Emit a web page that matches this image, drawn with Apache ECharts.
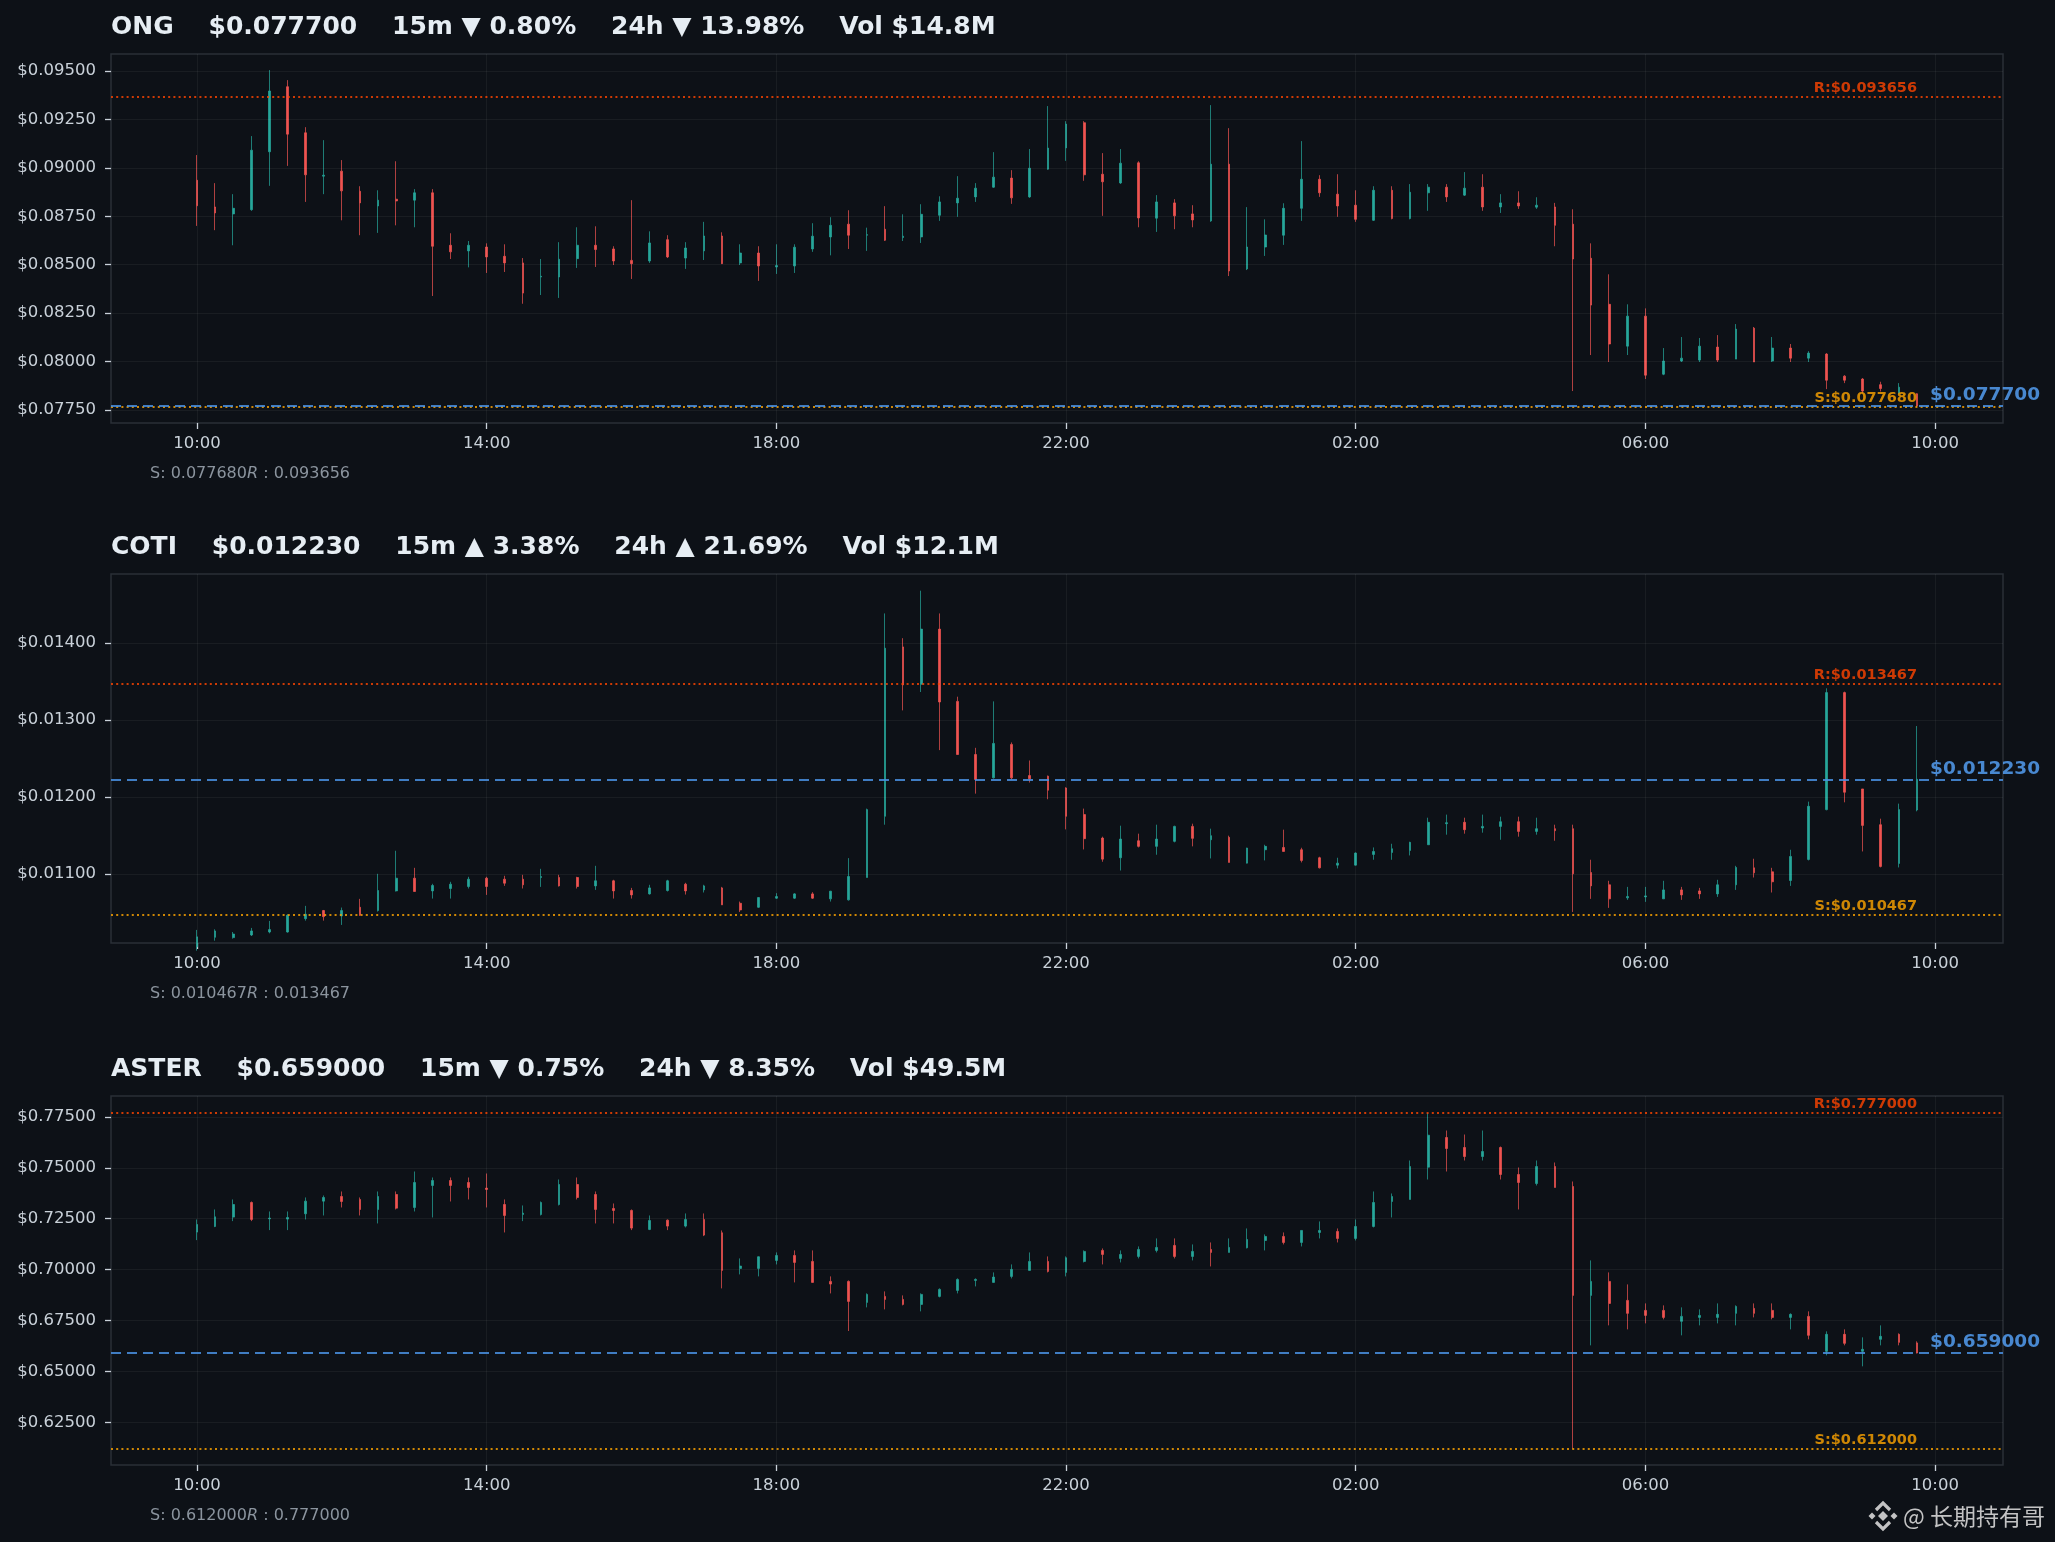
<!DOCTYPE html>
<html>
<head>
<meta charset="utf-8">
<title>ONG / COTI / ASTER 15m</title>
<script src="https://cdn.jsdelivr.net/npm/echarts@6.0.0/dist/echarts.min.js"></script>
<style>
  html, body { margin: 0; padding: 0; background: #0d1117; }
  #chart { width: 2055px; height: 1542px; }
</style>
</head>
<body>
<div id="chart"></div>
<script>
// 横轴刻度（15分钟K线，索引0 = 10:00）
const xTickPos = [0, 16, 32, 48, 64, 80, 96];
const xTickLabels = ["10:00", "14:00", "18:00", "22:00", "02:00", "06:00", "10:00"];

// 每根K线: [开, 收, 低, 高]
const ongCandles = [
  [0.08936, 0.08804, 0.08700, 0.09066], [0.08798, 0.08767, 0.08678, 0.08921], [0.08762, 0.08791, 0.08600, 0.08864],
  [0.08784, 0.09091, 0.08778, 0.09164], [0.09083, 0.09397, 0.08907, 0.09505], [0.09419, 0.09174, 0.09010, 0.09453],
  [0.09181, 0.08964, 0.08824, 0.09210], [0.08957, 0.08962, 0.08864, 0.09143], [0.08983, 0.08881, 0.08729, 0.09040],
  [0.08879, 0.08819, 0.08652, 0.08905], [0.08803, 0.08833, 0.08664, 0.08884], [0.08838, 0.08829, 0.08703, 0.09034],
  [0.08833, 0.08871, 0.08693, 0.08890], [0.08871, 0.08595, 0.08338, 0.08890], [0.08600, 0.08566, 0.08529, 0.08662],
  [0.08571, 0.08600, 0.08486, 0.08622], [0.08591, 0.08540, 0.08457, 0.08610], [0.08543, 0.08509, 0.08462, 0.08605],
  [0.08509, 0.08353, 0.08298, 0.08534], [0.08436, 0.08440, 0.08343, 0.08529], [0.08436, 0.08528, 0.08328, 0.08616],
  [0.08531, 0.08600, 0.08483, 0.08693], [0.08600, 0.08578, 0.08488, 0.08698], [0.08581, 0.08519, 0.08498, 0.08595],
  [0.08522, 0.08505, 0.08426, 0.08833], [0.08519, 0.08612, 0.08509, 0.08672], [0.08629, 0.08540, 0.08534, 0.08652],
  [0.08534, 0.08586, 0.08478, 0.08616], [0.08571, 0.08648, 0.08524, 0.08721], [0.08648, 0.08505, 0.08503, 0.08667],
  [0.08509, 0.08560, 0.08498, 0.08605], [0.08560, 0.08493, 0.08416, 0.08595], [0.08488, 0.08495, 0.08452, 0.08605],
  [0.08493, 0.08590, 0.08457, 0.08605], [0.08581, 0.08647, 0.08566, 0.08714], [0.08643, 0.08703, 0.08548, 0.08745],
  [0.08709, 0.08652, 0.08581, 0.08781], [0.08652, 0.08655, 0.08571, 0.08691], [0.08683, 0.08626, 0.08622, 0.08802],
  [0.08640, 0.08647, 0.08622, 0.08760], [0.08643, 0.08760, 0.08612, 0.08812], [0.08755, 0.08824, 0.08726, 0.08853],
  [0.08819, 0.08843, 0.08747, 0.08957], [0.08850, 0.08895, 0.08824, 0.08921], [0.08900, 0.08952, 0.08897, 0.09081],
  [0.08947, 0.08845, 0.08814, 0.08988], [0.08850, 0.08998, 0.08845, 0.09097], [0.08993, 0.09102, 0.08990, 0.09319],
  [0.09103, 0.09226, 0.09036, 0.09241], [0.09233, 0.08964, 0.08933, 0.09241], [0.08967, 0.08928, 0.08752, 0.09076],
  [0.08922, 0.09024, 0.08917, 0.09097], [0.09026, 0.08741, 0.08693, 0.09034], [0.08740, 0.08824, 0.08669, 0.08859],
  [0.08819, 0.08752, 0.08683, 0.08838], [0.08762, 0.08731, 0.08693, 0.08807], [0.08726, 0.09019, 0.08721, 0.09324],
  [0.09019, 0.08467, 0.08441, 0.09205], [0.08478, 0.08591, 0.08472, 0.08797], [0.08591, 0.08653, 0.08545, 0.08734],
  [0.08652, 0.08791, 0.08602, 0.08817], [0.08791, 0.08941, 0.08726, 0.09138], [0.08941, 0.08871, 0.08850, 0.08962],
  [0.08864, 0.08803, 0.08747, 0.08967], [0.08807, 0.08734, 0.08721, 0.08884], [0.08729, 0.08884, 0.08726, 0.08905],
  [0.08884, 0.08738, 0.08734, 0.08905], [0.08738, 0.08874, 0.08734, 0.08916], [0.08871, 0.08900, 0.08778, 0.08916],
  [0.08900, 0.08850, 0.08824, 0.08916], [0.08859, 0.08895, 0.08855, 0.08978], [0.08900, 0.08798, 0.08778, 0.08967],
  [0.08798, 0.08819, 0.08767, 0.08864], [0.08819, 0.08803, 0.08788, 0.08879], [0.08797, 0.08807, 0.08788, 0.08848],
  [0.08798, 0.08703, 0.08595, 0.08819], [0.08709, 0.08529, 0.07847, 0.08786], [0.08533, 0.08291, 0.08033, 0.08610],
  [0.08295, 0.08090, 0.07997, 0.08450], [0.08079, 0.08234, 0.08033, 0.08295], [0.08234, 0.07929, 0.07909, 0.08274],
  [0.07934, 0.08002, 0.07929, 0.08069], [0.08002, 0.08017, 0.07997, 0.08126], [0.08007, 0.08079, 0.07997, 0.08121],
  [0.08074, 0.08007, 0.07997, 0.08136], [0.08012, 0.08167, 0.08012, 0.08193], [0.08172, 0.07997, 0.07997, 0.08178],
  [0.08002, 0.08069, 0.07997, 0.08126], [0.08069, 0.08017, 0.07997, 0.08090], [0.08017, 0.08043, 0.07997, 0.08053],
  [0.08038, 0.07903, 0.07857, 0.08043], [0.07924, 0.07903, 0.07888, 0.07929], [0.07909, 0.07847, 0.07836, 0.07914],
  [0.07880, 0.07860, 0.07845, 0.07895], [0.07836, 0.07867, 0.07833, 0.07888], [0.07833, 0.07770, 0.07766, 0.07836]
];

const cotiCandles = [
  [0.010050, 0.010180, 0.010000, 0.010270], [0.010174, 0.010257, 0.010130, 0.010278], [0.010170, 0.010217, 0.010157, 0.010243],
  [0.010204, 0.010257, 0.010191, 0.010296], [0.010243, 0.010274, 0.010226, 0.010387], [0.010243, 0.010461, 0.010235, 0.010474],
  [0.010417, 0.010474, 0.010391, 0.010583], [0.010522, 0.010443, 0.010391, 0.010530], [0.010452, 0.010522, 0.010335, 0.010561],
  [0.010565, 0.010461, 0.010452, 0.010674], [0.010522, 0.010783, 0.010509, 0.011000], [0.010778, 0.010943, 0.010770, 0.011300],
  [0.010943, 0.010770, 0.010770, 0.011078], [0.010778, 0.010848, 0.010678, 0.010870], [0.010809, 0.010865, 0.010678, 0.010896],
  [0.010835, 0.010930, 0.010809, 0.010961], [0.010943, 0.010835, 0.010726, 0.010961], [0.010930, 0.010878, 0.010843, 0.010974],
  [0.010930, 0.010857, 0.010809, 0.010987], [0.010952, 0.010965, 0.010830, 0.011065], [0.010952, 0.010843, 0.010835, 0.010987],
  [0.010952, 0.010835, 0.010809, 0.010961], [0.010843, 0.010909, 0.010791, 0.011104], [0.010909, 0.010778, 0.010678, 0.010922],
  [0.010783, 0.010726, 0.010678, 0.010817], [0.010739, 0.010817, 0.010730, 0.010857], [0.010783, 0.010909, 0.010770, 0.010922],
  [0.010865, 0.010778, 0.010730, 0.010883], [0.010791, 0.010843, 0.010757, 0.010857], [0.010817, 0.010596, 0.010596, 0.010830],
  [0.010617, 0.010530, 0.010504, 0.010639], [0.010565, 0.010691, 0.010557, 0.010696], [0.010683, 0.010704, 0.010674, 0.010748],
  [0.010683, 0.010739, 0.010674, 0.010748], [0.010739, 0.010683, 0.010674, 0.010761], [0.010674, 0.010774, 0.010639, 0.010778],
  [0.010661, 0.010965, 0.010652, 0.011204], [0.010952, 0.011835, 0.010952, 0.011848], [0.011748, 0.013935, 0.011639, 0.014387],
  [0.013952, 0.013457, 0.013126, 0.014065], [0.013465, 0.014183, 0.013365, 0.014683], [0.014183, 0.013235, 0.012609, 0.014387],
  [0.013243, 0.012552, 0.012552, 0.013304], [0.012552, 0.012226, 0.012043, 0.012639], [0.012248, 0.012696, 0.012239, 0.013243],
  [0.012683, 0.012248, 0.012226, 0.012709], [0.012278, 0.012235, 0.012187, 0.012474], [0.012270, 0.012087, 0.011970, 0.012278],
  [0.012117, 0.011748, 0.011578, 0.012126], [0.011770, 0.011457, 0.011317, 0.011848], [0.011465, 0.011191, 0.011157, 0.011483],
  [0.011209, 0.011452, 0.011043, 0.011626], [0.011430, 0.011357, 0.011343, 0.011522], [0.011357, 0.011452, 0.011248, 0.011639],
  [0.011422, 0.011617, 0.011409, 0.011626], [0.011617, 0.011461, 0.011357, 0.011652], [0.011443, 0.011496, 0.011200, 0.011587],
  [0.011474, 0.011148, 0.011148, 0.011496], [0.011139, 0.011335, 0.011135, 0.011339], [0.011313, 0.011357, 0.011174, 0.011378],
  [0.011343, 0.011291, 0.011291, 0.011574], [0.011313, 0.011174, 0.011148, 0.011339], [0.011209, 0.011078, 0.011070, 0.011222],
  [0.011113, 0.011139, 0.011070, 0.011209], [0.011113, 0.011270, 0.011109, 0.011278], [0.011252, 0.011291, 0.011183, 0.011343],
  [0.011278, 0.011326, 0.011183, 0.011391], [0.011304, 0.011409, 0.011239, 0.011417], [0.011378, 0.011670, 0.011378, 0.011730],
  [0.011652, 0.011665, 0.011509, 0.011770], [0.011670, 0.011574, 0.011522, 0.011730], [0.011596, 0.011617, 0.011535, 0.011770],
  [0.011617, 0.011678, 0.011443, 0.011743], [0.011678, 0.011552, 0.011483, 0.011743], [0.011552, 0.011587, 0.011509, 0.011730],
  [0.011587, 0.011561, 0.011430, 0.011639], [0.011587, 0.011000, 0.010504, 0.011639], [0.011017, 0.010843, 0.010674, 0.011183],
  [0.010857, 0.010674, 0.010557, 0.010909], [0.010687, 0.010704, 0.010661, 0.010830], [0.010700, 0.010713, 0.010635, 0.010830],
  [0.010674, 0.010791, 0.010674, 0.010909], [0.010791, 0.010726, 0.010661, 0.010830], [0.010778, 0.010739, 0.010674, 0.010817],
  [0.010739, 0.010857, 0.010700, 0.010922], [0.010857, 0.011083, 0.010791, 0.011104], [0.011078, 0.011013, 0.010952, 0.011196],
  [0.011026, 0.010896, 0.010757, 0.011078], [0.010913, 0.011226, 0.010843, 0.011313], [0.011187, 0.011878, 0.011174, 0.011939],
  [0.011835, 0.013357, 0.011826, 0.013413], [0.013357, 0.012061, 0.011930, 0.013370], [0.012104, 0.011630, 0.011291, 0.012104],
  [0.011639, 0.011096, 0.011083, 0.011717], [0.011135, 0.011835, 0.011083, 0.011913], [0.011830, 0.012230, 0.011813, 0.012922]
];

const asterCandles = [
  [0.71839, 0.72215, 0.71446, 0.72461], [0.72118, 0.72592, 0.72085, 0.72952], [0.72576, 0.73197, 0.72379, 0.73443],
  [0.73295, 0.72461, 0.72379, 0.73344], [0.72494, 0.72527, 0.71938, 0.72854], [0.72478, 0.72559, 0.71938, 0.72854],
  [0.72739, 0.73361, 0.72461, 0.73541], [0.73361, 0.73541, 0.72657, 0.73639], [0.73590, 0.73344, 0.73050, 0.73835],
  [0.73443, 0.72952, 0.72657, 0.73541], [0.72952, 0.73590, 0.72265, 0.73835], [0.73688, 0.73017, 0.72952, 0.73835],
  [0.73050, 0.74277, 0.72854, 0.74817], [0.74130, 0.74375, 0.72559, 0.74522], [0.74375, 0.74130, 0.73344, 0.74522],
  [0.74277, 0.74032, 0.73443, 0.74522], [0.74000, 0.73934, 0.73050, 0.74719], [0.73197, 0.72657, 0.71823, 0.73443],
  [0.72706, 0.72772, 0.72379, 0.73148], [0.72706, 0.73295, 0.72657, 0.73344], [0.73197, 0.74179, 0.73148, 0.74424],
  [0.74179, 0.73541, 0.73443, 0.74522], [0.73688, 0.72952, 0.72265, 0.73835], [0.73001, 0.72903, 0.72265, 0.73246],
  [0.72903, 0.72036, 0.71938, 0.72952], [0.71971, 0.72412, 0.71938, 0.72657], [0.72428, 0.72134, 0.71938, 0.72461],
  [0.72134, 0.72461, 0.72069, 0.72756], [0.72461, 0.71692, 0.71643, 0.72756], [0.71807, 0.69958, 0.69075, 0.71921],
  [0.70056, 0.70171, 0.69762, 0.70547], [0.70056, 0.70629, 0.69664, 0.70645], [0.70449, 0.70694, 0.70252, 0.70842],
  [0.70694, 0.70351, 0.69369, 0.70940], [0.70400, 0.69369, 0.69369, 0.70940], [0.69418, 0.69287, 0.68829, 0.69664],
  [0.69418, 0.68437, 0.66981, 0.69467], [0.68388, 0.68780, 0.68142, 0.68829], [0.68682, 0.68535, 0.68044, 0.68927],
  [0.68535, 0.68289, 0.68240, 0.68731], [0.68289, 0.68780, 0.67946, 0.68829], [0.68682, 0.69026, 0.68633, 0.69075],
  [0.68976, 0.69516, 0.68829, 0.69565], [0.69467, 0.69516, 0.69173, 0.69565], [0.69369, 0.69631, 0.69369, 0.69860],
  [0.69664, 0.70007, 0.69565, 0.70253], [0.69958, 0.70400, 0.69958, 0.70841], [0.70400, 0.69909, 0.69860, 0.70645],
  [0.69860, 0.70580, 0.69664, 0.70645], [0.70400, 0.70891, 0.70351, 0.70940], [0.70940, 0.70743, 0.70253, 0.71038],
  [0.70547, 0.70743, 0.70351, 0.70940], [0.70645, 0.70989, 0.70547, 0.71136], [0.70940, 0.71087, 0.70841, 0.71529],
  [0.71185, 0.70645, 0.70547, 0.71529], [0.70645, 0.70891, 0.70449, 0.71234], [0.70989, 0.70841, 0.70154, 0.71332],
  [0.70841, 0.71087, 0.70841, 0.71529], [0.71070, 0.71480, 0.71038, 0.72019], [0.71430, 0.71627, 0.70940, 0.71725],
  [0.71627, 0.71332, 0.71234, 0.71823], [0.71332, 0.71921, 0.71136, 0.71921], [0.71823, 0.71921, 0.71529, 0.72363],
  [0.71872, 0.71529, 0.71332, 0.72019], [0.71529, 0.72118, 0.71430, 0.72461], [0.72118, 0.73295, 0.72069, 0.73835],
  [0.73345, 0.73590, 0.72559, 0.73737], [0.73443, 0.75062, 0.73443, 0.75357], [0.75030, 0.76600, 0.74424, 0.77696],
  [0.76486, 0.75946, 0.74817, 0.76829], [0.75995, 0.75553, 0.75357, 0.76633], [0.75553, 0.75799, 0.75357, 0.76829],
  [0.75995, 0.74670, 0.74424, 0.76044], [0.74670, 0.74277, 0.72952, 0.75013], [0.74228, 0.75062, 0.74130, 0.75357],
  [0.75062, 0.74032, 0.74032, 0.75259], [0.74081, 0.68731, 0.61200, 0.74326], [0.68731, 0.69418, 0.66277, 0.70449],
  [0.69418, 0.68338, 0.67259, 0.69860], [0.68486, 0.67848, 0.67062, 0.69271], [0.67995, 0.67749, 0.67357, 0.68338],
  [0.67995, 0.67651, 0.67553, 0.68240], [0.67455, 0.67700, 0.66768, 0.68142], [0.67651, 0.67749, 0.67259, 0.68044],
  [0.67651, 0.67799, 0.67357, 0.68338], [0.67848, 0.68191, 0.67259, 0.68240], [0.68093, 0.67848, 0.67651, 0.68338],
  [0.67995, 0.67651, 0.67553, 0.68338], [0.67651, 0.67799, 0.67062, 0.67848], [0.67700, 0.66768, 0.66572, 0.67946],
  [0.65983, 0.66817, 0.65786, 0.66964], [0.66817, 0.66375, 0.66277, 0.67062], [0.65983, 0.66081, 0.65246, 0.66670],
  [0.66572, 0.66719, 0.66277, 0.67259], [0.66817, 0.66424, 0.66277, 0.66866], [0.66398, 0.65900, 0.65880, 0.66473]
];

// 各币种信息
const symbols = ["ONG", "COTI", "ASTER"];
const lastPrices = [0.0777, 0.01223, 0.659];
const supports = [0.07768, 0.010467, 0.612];
const resistances = [0.093656, 0.013467, 0.777];
const change15m = [-0.80, 3.38, -0.75];
const change24h = [-13.98, 21.69, -8.35];
const volumes = ["$14.8M", "$12.1M", "$49.5M"];

// 纵轴刻度
const ongTicks = [0.0775, 0.08, 0.0825, 0.085, 0.0875, 0.09, 0.0925, 0.095];
const cotiTicks = [0.011, 0.012, 0.013, 0.014];
const asterTicks = [0.625, 0.65, 0.675, 0.7, 0.725, 0.75, 0.775];

(function () {
  let myChart = echarts.init(document.getElementById("chart"), null, { renderer: "canvas" });

  const candleSets = [ongCandles, cotiCandles, asterCandles];
  const tickSets = [ongTicks, cotiTicks, asterTicks];
  // 纵轴显示范围
  const yRanges = [[0.07682, 0.09588], [0.01010, 0.01490], [0.60400, 0.78525]];

  const gridTops = [54, 574, 1096];
  const gridH = 369;
  const font = "DejaVu Sans";
  const tickColor = "#c9d1d9";
  const faint = "rgba(255,255,255,0.05)";

  let grids = [], xAxes = [], yAxes = [], series = [], graphics = [];

  symbols.forEach(function (sym, k) {
    const candles = candleSets[k];
    const lastIdx = candles.length - 1;
    const price = lastPrices[k];

    grids.push({
      left: 111, right: 52, top: gridTops[k], height: gridH,
      show: true, borderColor: "#2a2f37", borderWidth: 1.5, backgroundColor: "transparent"
    });

    xAxes.push({
      type: "value", gridIndex: k, min: -4.75, max: 99.75,
      axisLine: { show: false, onZero: false },
      axisTick: { show: true, length: 6, lineStyle: { color: tickColor, width: 1.3 }, customValues: xTickPos },
      axisLabel: {
        customValues: xTickPos,
        formatter: function (v) { return xTickLabels[xTickPos.indexOf(v)]; },
        color: tickColor, fontSize: 16.5, fontFamily: font, margin: 12
      },
      splitLine: { show: false }
    });

    yAxes.push({
      type: "value", gridIndex: k, min: yRanges[k][0], max: yRanges[k][1],
      axisLine: { show: false, onZero: false },
      axisTick: { show: true, length: 6, lineStyle: { color: tickColor, width: 1.3 }, customValues: tickSets[k] },
      axisLabel: {
        customValues: tickSets[k],
        formatter: function (v) { return "$" + v.toFixed(5); },
        color: tickColor, fontSize: 16.5, fontFamily: font, margin: 15
      },
      splitLine: { show: false }
    });

    // 网格线 + 支撑/阻力/现价线
    let lines = [];
    tickSets[k].forEach(function (v) { lines.push({ yAxis: v, lineStyle: { color: faint, width: 1, type: "solid" } }); });
    xTickPos.forEach(function (v) { lines.push({ xAxis: v, lineStyle: { color: faint, width: 1, type: "solid" } }); });
    lines.push({ yAxis: resistances[k], lineStyle: { color: "rgba(255,69,0,0.8)", width: 2, type: [2, 3.2] } });
    lines.push({ yAxis: supports[k], lineStyle: { color: "rgba(255,165,0,0.8)", width: 2, type: [2, 3.2] } });
    lines.push({ yAxis: price, lineStyle: { color: "rgba(74,144,226,0.85)", width: 2, type: [10, 6] } });

    series.push({
      type: "candlestick", name: sym, xAxisIndex: k, yAxisIndex: k,
      data: candles.map(function (c, i) { return [i, c[0], c[1], c[2], c[3]]; }),
      barWidth: 2.2,
      itemStyle: {
        color: "#26a69a", color0: "#ef5350",
        borderColor: "rgba(38,166,154,0.72)", borderColor0: "rgba(239,83,80,0.72)",
        borderWidth: 1
      },
      markLine: {
        silent: true, symbol: ["none", "none"], precision: 8,
        label: { show: false }, animation: false, data: lines
      }
    });

    // 右侧标签
    const lab = function (text, color, size, align) {
      return { show: true, position: "top", align: align, distance: 1, formatter: text,
        color: color, fontSize: size, fontWeight: "bold", fontFamily: font };
    };
    series.push({
      type: "scatter", xAxisIndex: k, yAxisIndex: k, symbolSize: 0, silent: true, clip: false, z: 6,
      data: [
        { value: [lastIdx, resistances[k]], label: lab("R:$" + resistances[k].toFixed(6), "#ff4500", 14.5, "right") },
        { value: [lastIdx, supports[k]], label: lab("S:$" + supports[k].toFixed(6), "#ffa500", 14.5, "right") },
        { value: [lastIdx + 0.72, price], label: lab("$" + price.toFixed(6), "#58a6ff", 18.5, "left") }
      ]
    });

    // 标题行
    const arrow = function (v) { return (v >= 0 ? "▲ " : "▼ ") + Math.abs(v).toFixed(2) + "%"; };
    graphics.push({
      type: "text", x: 111, y: gridTops[k] - 27,
      style: {
        text: sym + "    $" + price.toFixed(6) + "    15m " + arrow(change15m[k]) +
          "    24h " + arrow(change24h[k]) + "    Vol " + volumes[k],
        fill: "#e6edf3", font: "bold 25px 'DejaVu Sans'", verticalAlign: "middle"
      }
    });

    // 底部 S/R 注释
    graphics.push({
      type: "text", x: 150, y: gridTops[k] + gridH + 51,
      style: {
        text: "{a|S: " + supports[k].toFixed(6) + "}{b|R}{a| : " + resistances[k].toFixed(6) + "}",
        verticalAlign: "middle",
        rich: {
          a: { fill: "#8b949e", fontSize: 16, fontFamily: font },
          b: { fill: "#8b949e", fontSize: 16, fontFamily: font, fontStyle: "italic" }
        }
      }
    });
  });

  // 水印
  const wm = "rgba(215,215,215,0.9)";
  graphics.push(
    { type: "polygon", shape: { points: [[1883, 1511], [1888, 1516], [1883, 1521], [1878, 1516]] }, style: { fill: wm } },
    { type: "polygon", shape: { points: [[1872, 1512.5], [1875.5, 1516], [1872, 1519.5], [1868.5, 1516]] }, style: { fill: wm } },
    { type: "polygon", shape: { points: [[1894, 1512.5], [1897.5, 1516], [1894, 1519.5], [1890.5, 1516]] }, style: { fill: wm } },
    { type: "polyline", shape: { points: [[1876, 1510], [1883, 1503], [1890, 1510]] }, style: { stroke: wm, lineWidth: 3.2, fill: null } },
    { type: "polyline", shape: { points: [[1876, 1522], [1883, 1529], [1890, 1522]] }, style: { stroke: wm, lineWidth: 3.2, fill: null } },
    {
      type: "text", x: 1903, y: 1516,
      style: { text: "@ 长期持有哥", fill: wm, font: "23px 'Noto Sans CJK SC'", verticalAlign: "middle" }
    }
  );

  let option = {
    backgroundColor: "#0d1117",
    animation: false,
    grid: grids,
    xAxis: xAxes,
    yAxis: yAxes,
    series: series,
    graphic: graphics
  };

  myChart.setOption(option);
  window.addEventListener("resize", function () {
    myChart.resize();
  });
})();
</script>
</body>
</html>
